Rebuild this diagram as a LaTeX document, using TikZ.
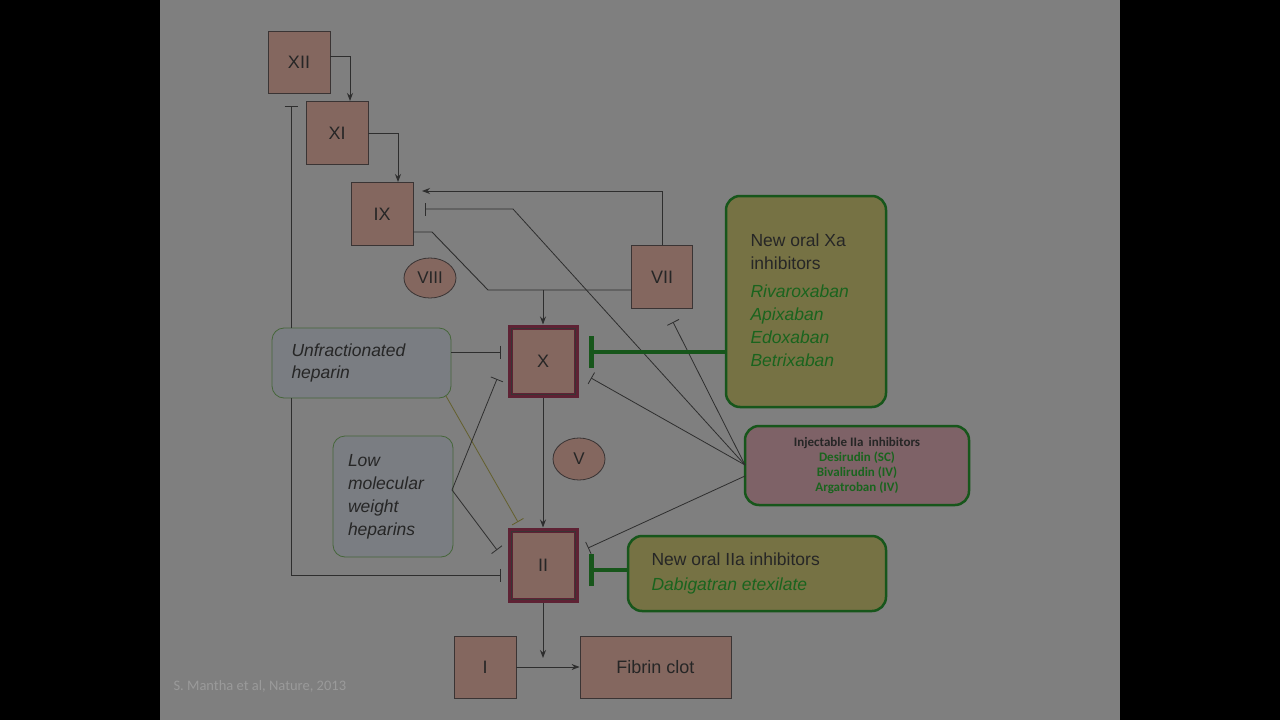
\documentclass[tikz,border=0pt]{standalone}
\usepackage{fontspec}
\setmainfont{Liberation Sans}
\newfontfamily\carl{Carlito}
\usetikzlibrary{arrows.meta,shapes.geometric}
\definecolor{slide}{HTML}{7F7F7F}
\definecolor{boxf}{HTML}{84675F}
\definecolor{boxd}{HTML}{3A3434}
\definecolor{crim}{HTML}{5E2234}
\definecolor{gd}{HTML}{17561B}
\definecolor{gt}{HTML}{1A641E}
\definecolor{olivef}{HTML}{767244}
\definecolor{hepf}{HTML}{7A7D82}
\definecolor{hepb}{HTML}{46663A}
\definecolor{injf}{HTML}{7E6267}
\definecolor{ln}{HTML}{2E2E2E}
\definecolor{citec}{HTML}{9A9A9A}
\begin{document}
\begin{tikzpicture}[x=1pt,y=-1pt,
 fac/.style={draw=boxd,fill=boxf,line width=0.8pt,inner sep=0pt,font=\fontsize{18}{18}\selectfont,text=black!85},
 big/.style={fac,draw=crim,line width=5pt,minimum width=66pt,minimum height=68pt},
 inner/.style={draw=boxd,line width=0.8pt},
 ell/.style={draw=boxd,fill=boxf,ellipse,line width=0.8pt,inner sep=0pt,font=\fontsize{17}{17}\selectfont,text=black!85},
 hep/.style={draw=hepb,fill=hepf,rounded corners=12pt,line width=0.8pt,align=left,font=\fontsize{17.5}{22}\selectfont\itshape,text=black!85},
 gbox/.style={draw=gd,fill=olivef,rounded corners=14pt,line width=2.5pt},
 ar/.style={draw=ln,line width=0.9pt,-{Stealth[length=8pt,width=6pt]}},
 inh/.style={draw=ln,line width=0.8pt,-{Bar[width=13pt]}},
 ginh/.style={draw=gd,line width=3.5pt,-{Bar[width=32pt,line width=4.5pt]}}]
\useasboundingbox (0,0) rectangle (1280,720);
\fill[black] (0,0) rectangle (1280,720);
\fill[slide] (160,0) rectangle (1120,720);
% factors
\node[fac,minimum width=62pt,minimum height=62pt] (xii) at (299,62) {XII};
\node[fac,minimum width=62pt,minimum height=63pt] (xi) at (337,133) {XI};
\node[fac,minimum width=62pt,minimum height=63pt] (ix) at (382,214) {IX};
\node[fac,minimum width=61pt,minimum height=63pt] (vii) at (662,277) {VII};
\node[ell,minimum width=52pt,minimum height=40pt] (viii) at (430,278) {VIII};
\node[ell,minimum width=52pt,minimum height=42pt] (v) at (579,459) {V};
\node[big] (x) at (543,361) {X};
\draw[inner] ([shift={(3.5pt,-3.5pt)}]x.north west) rectangle ([shift={(-3.5pt,3.5pt)}]x.south east);
\node[big,minimum height=70pt] (ii) at (543,565) {II};
\draw[inner] ([shift={(3.5pt,-3.5pt)}]ii.north west) rectangle ([shift={(-3.5pt,3.5pt)}]ii.south east);
\node[fac,minimum width=62pt,minimum height=62pt] (i) at (485,667) {I};
\node[fac,minimum width=151pt,minimum height=62pt] (fib) at (655.5,667) {Fibrin clot};
% heparins
\node[hep,minimum width=179pt,minimum height=70pt,text width=140pt] (ufh) at (361.5,363) {Unfractionated\\heparin};
\node[hep,minimum width=120pt,minimum height=121pt,text width=90pt,font=\fontsize{17.5}{23}\selectfont\itshape] (lmwh) at (393,496.5) {Low\\molecular\\weight\\heparins};
% green boxes
\node[gbox,minimum width=160pt,minimum height=211pt] (xa) at (806,301.5) {};
\node[anchor=north west,align=left,font=\fontsize{17.5}{23}\selectfont,text=black!85] (xat) at (747,230) {New oral Xa\\inhibitors};
\node[anchor=north west,align=left,font=\fontsize{17.5}{23}\selectfont\itshape,text=gt] (xal) at (747,281) {Rivaroxaban\\Apixaban\\Edoxaban\\Betrixaban};
\node[gbox,fill=injf,minimum width=224pt,minimum height=79pt,align=center,font=\carl\fontsize{13}{15}\selectfont\bfseries] (inj) at (857,465.5) {\textcolor{black!85}{Injectable IIa\, inhibitors}\\\textcolor{gt}{Desirudin (SC)}\\\textcolor{gt}{Bivalirudin (IV)}\\\textcolor{gt}{Argatroban (IV)}};
\node[gbox,minimum width=258pt,minimum height=75pt] (iia) at (757,573.5) {};
\node[anchor=north west,align=left,font=\fontsize{17.5}{25}\selectfont,text=black!85] (iiat) at (648,549) {New oral IIa inhibitors\\\textcolor{gt}{\itshape Dabigatran etexilate}};
\node[anchor=west,font=\carl\fontsize{14.5}{14.5}\selectfont,text=citec] (cite) at (170,686) {S. Mantha et al, Nature, 2013};
% cascade arrows
\draw[ar] (xii.east|-0,56) -| (350,101);
\draw[ar] (xi.east|-0,133) -| (398,182);
\draw[ar] (vii.north) |- (422,191);
\draw[draw=ln,line width=0.9pt] (ix.east|-0,232) -- (432,232) -- (488,290) -- (vii.west|-0,290);
\coordinate (j) at (543,290);
\draw[ar] (j) -- (x.north);
\draw[ar] (x.south) -- (ii.north);
\draw[ar] (ii.south) -- (543,658);
\draw[ar] (i.east) -- (fib.west);
% heparin inhibitions
\draw[inh] (ufh.east|-0,352) -- (501,352);
\draw[inh] (291,328) -- (291,106);
\draw[inh] (291,398) -- (291,575) -- (501,575);
\draw[draw=olive!60!black,line width=0.8pt,-{Bar[width=13pt]}] (446,396) -- (518,522);
\draw[inh] (452,490) -- (497,379);
\draw[inh] (452,490) -- (497,550);
% injectable inhibitions
\coordinate (ip) at (745,465);
\draw[inh] (ip) -- (513,209) -- (425,209);
\draw[inh] (ip) -- (673,322);
\draw[inh] (ip) -- (591,378);
\draw[inh] (745,476) -- (588,548);
% oral inhibitions
\draw[ginh] (xa.west|-0,352) -- (589,352);
\draw[ginh] (iia.west|-0,570) -- (589,570);
\end{tikzpicture}
\end{document}
